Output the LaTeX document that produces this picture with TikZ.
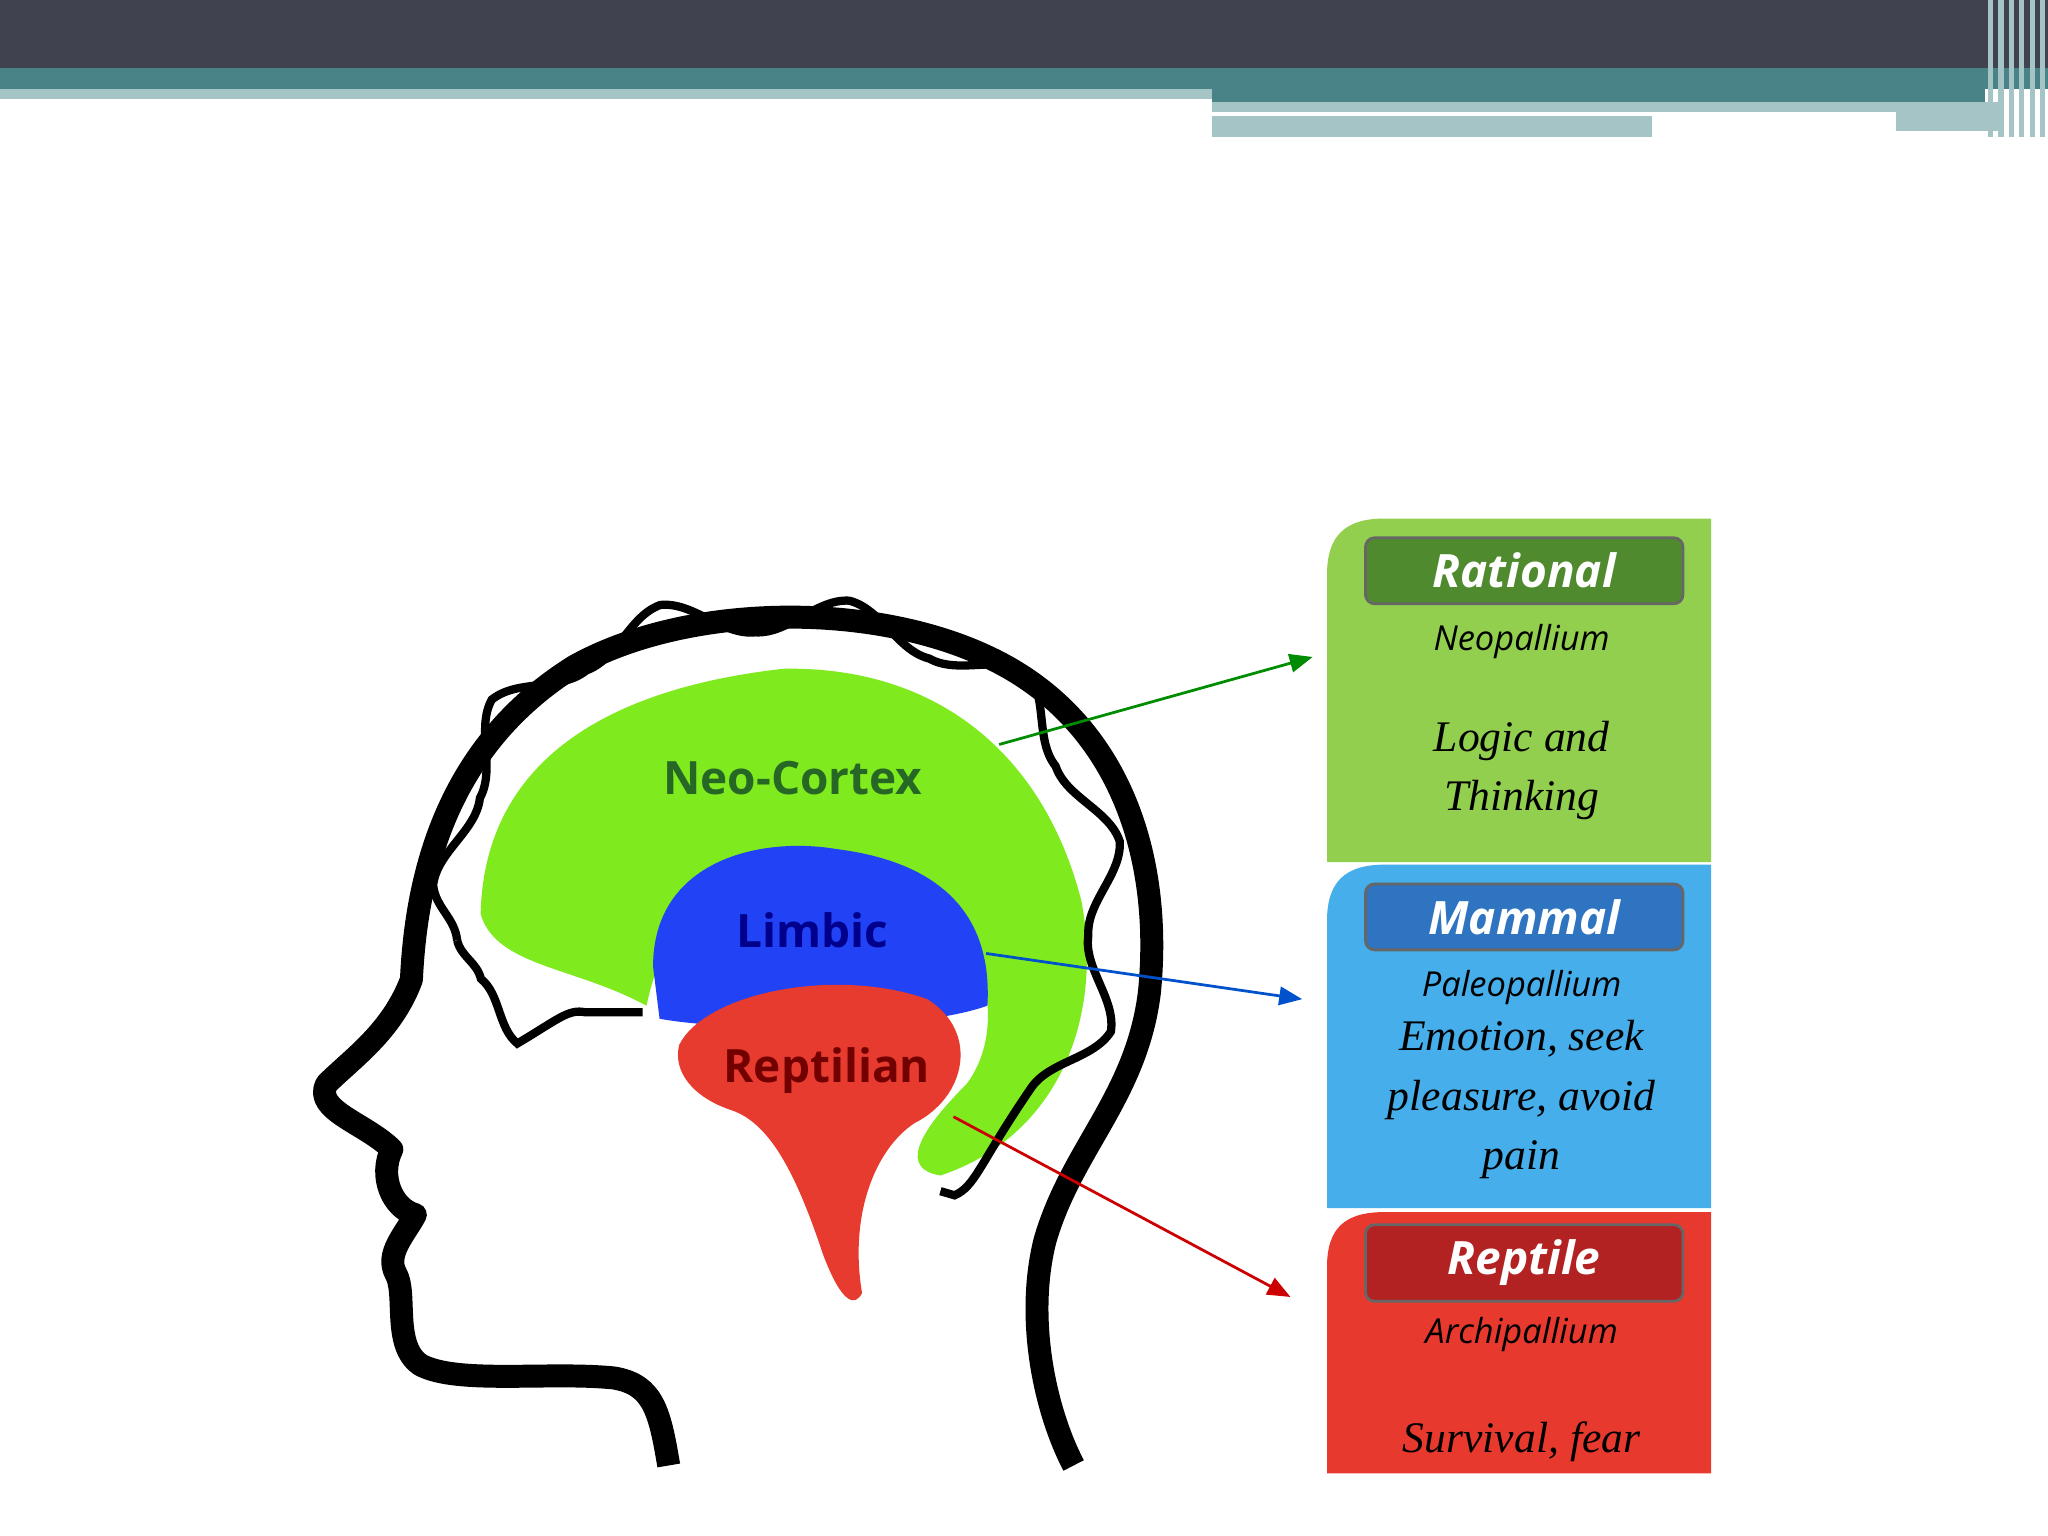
\documentclass[tikz,border=0pt]{standalone}
\usepackage{fontspec}
\setmainfont{Open Sans}
\newfontfamily\scriptf{Liberation Serif}
\usetikzlibrary{arrows.meta,decorations.pathmorphing}
\definecolor{hdark}{HTML}{41424F}
\definecolor{hteal}{HTML}{4A8387}
\definecolor{hlight}{HTML}{A5C4C6}
\definecolor{neo}{HTML}{7FEA1E}
\definecolor{lim}{HTML}{2142F5}
\definecolor{rep}{HTML}{E63B2E}
\definecolor{gbox}{HTML}{92CF4E}
\definecolor{bbox}{HTML}{45AEEB}
\definecolor{rbox}{HTML}{E8392E}
\definecolor{gbtn}{HTML}{4F8A2E}
\definecolor{bbtn}{HTML}{2F74C0}
\definecolor{rbtn}{HTML}{B32222}
\tikzset{
 btn/.style={draw=black!60,line width=0.6pt,rounded corners=2pt,minimum width=2.43cm,minimum height=0.5cm,text=white,font=\bfseries\itshape\fontsize{10}{10}\selectfont},
 sub/.style={font=\itshape\fontsize{7.5}{9}\selectfont},
 scr/.style={font=\scriptf\itshape\fontsize{9.5}{13}\selectfont,align=center},
 blab/.style={font=\bfseries\fontsize{10}{10}\selectfont},
 conn/.style={line width=0.6pt,-{Triangle[length=5pt,width=4pt]}}
}
\begin{document}
\begin{tikzpicture}[x=0.01cm,y=-0.01cm]
\useasboundingbox (0,0) rectangle (1568,1176);
\fill[white] (0,0) rectangle (1568,1176);
% header
\fill[hdark] (0,0) rectangle (1568,52);
\fill[hteal] (0,52) rectangle (1568,68);
\fill[hlight] (0,68) rectangle (928,76);
\fill[hteal] (928,68) rectangle (1520,78);
\fill[hlight] (928,78) rectangle (1530,86);
\fill[white] (928,86) rectangle (1452,89);
\fill[hlight] (928,89) rectangle (1265,105);
\fill[hlight] (1452,86) rectangle (1530,100);
\foreach \x in {1522,1530,1538,1546,1554,1562}{\fill[hlight] (\x,0) rectangle (\x+4,105);}
% brain regions
\fill[neo] (368,700) .. controls (370,600) and (440,530) .. (600,512)
 .. controls (720,510) and (800,580) .. (828,690)
 .. controls (845,780) and (810,870) .. (720,900)
 .. controls (690,895) and (700,870) .. (740,830)
 .. controls (770,790) and (760,720) .. (700,670)
 .. controls (620,640) and (520,650) .. (495,770)
 .. controls (440,740) and (380,740) .. (368,700) -- cycle;
\fill[lim] (500,740) .. controls (500,660) and (580,640) .. (640,650)
 .. controls (720,660) and (760,700) .. (756,770)
 .. controls (700,790) and (560,790) .. (505,780) -- cycle;
\fill[rep] (520,800) .. controls (540,760) and (640,740) .. (710,765)
 .. controls (750,790) and (740,840) .. (700,860)
 .. controls (670,880) and (650,930) .. (660,990)
 .. controls (655,1000) and (645,1000) .. (630,960)
 .. controls (610,900) and (590,860) .. (560,850)
 .. controls (530,840) and (515,820) .. (520,800) -- cycle;
% skull inner wavy line
\draw[line width=1.8pt,decorate,decoration={snake,amplitude=4pt,segment length=40pt}] (350,720) .. controls (340,620) and (400,540) .. (500,515)
 .. controls (600,495) and (720,505) .. (790,570)
 .. controls (850,630) and (860,720) .. (845,800)
 .. controls (830,870) and (790,900) .. (720,912);
\draw[line width=1.8pt,decorate,decoration={snake,amplitude=3pt,segment length=30pt}] (350,720) .. controls (360,760) and (420,775) .. (492,775);
% head outline
\draw[line width=5pt,line join=round] (512,1122) .. controls (505,1080) and (500,1060) .. (470,1055)
 .. controls (420,1050) and (350,1060) .. (322,1045)
 .. controls (300,1030) and (312,990) .. (303,975)
 .. controls (295,960) and (310,945) .. (318,930)
 .. controls (300,925) and (290,900) .. (300,880)
 .. controls (280,860) and (240,850) .. (250,830)
 .. controls (270,810) and (300,790) .. (315,750)
 .. controls (320,640) and (360,560) .. (440,510)
 .. controls (530,460) and (680,460) .. (770,510)
 .. controls (860,560) and (890,660) .. (880,760)
 .. controls (870,840) and (820,880) .. (800,950)
 .. controls (785,1010) and (800,1080) .. (822,1122);
% labels
\node[blab,text=green!30!black!85] (nl) at (607,596) {Neo-Cortex};
\node[blab,text=blue!55!black] (ll) at (622,712) {Limbic};
\node[blab,text=red!45!black] (rl) at (633,820) {Reptilian};
% boxes
\fill[gbox] (1016,660) -- (1016,440) .. controls (1016,410) and (1030,397) .. (1060,397) -- (1310,397) -- (1310,660) -- cycle;
\fill[bbox] (1016,925) -- (1016,705) .. controls (1016,675) and (1030,662) .. (1060,662) -- (1310,662) -- (1310,925) -- cycle;
\fill[rbox] (1016,1128) -- (1016,970) .. controls (1016,940) and (1030,928) .. (1060,928) -- (1310,928) -- (1310,1128) -- cycle;
\node[btn,fill=gbtn] (b1) at (1167,437) {Rational};
\node[btn,fill=bbtn] (b2) at (1167,702) {Mammal};
\node[btn,fill=rbtn] (b3) at (1167,967) {Reptile};
\node[sub] (s1) at (1165,491) {Neopallium};
\node[scr] (t1) at (1165,590) {Logic and\\Thinking};
\node[sub] (s2) at (1165,756) {Paleopallium};
\node[scr] (t2) at (1165,842) {Emotion, seek\\pleasure, avoid\\pain};
\node[sub] (s3) at (1165,1022) {Archipallium};
\node[scr] (t3) at (1165,1104) {Survival, fear};
% arrows
\coordinate (ga) at (765,570); \coordinate (gb) at (1005,503);
\coordinate (ba) at (755,730); \coordinate (bb) at (997,765);
\coordinate (ra) at (730,855); \coordinate (rb) at (988,993);
\draw[conn,color=green!55!black] (ga) -- (gb);
\draw[conn,color=blue!60!cyan!80!black] (ba) -- (bb);
\draw[conn,color=red!80!black] (ra) -- (rb);
\end{tikzpicture}
\end{document}
